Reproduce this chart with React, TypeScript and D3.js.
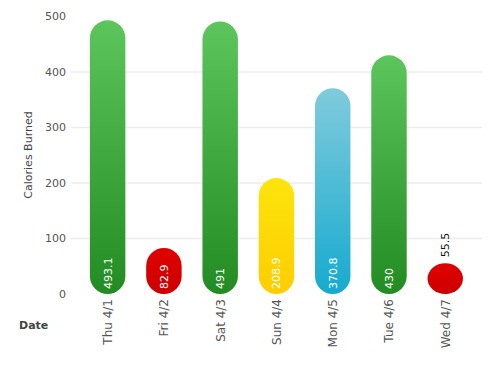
import React from "react";
import * as d3 from "d3";

const dates = ["Thu 4/1", "Fri 4/2", "Sat 4/3", "Sun 4/4", "Mon 4/5", "Tue 4/6", "Wed 4/7"];
const calories = [493.1, 82.9, 491, 208.9, 370.8, 430, 55.5];
const yTicks = [0, 100, 200, 300, 400, 500];

const W = 500;
const H = 389;
const FONT = "'DejaVu Sans', Verdana, sans-serif";

const palettes: Record<string, [string, string]> = {
  red: ["#e00000", "#cc0000"],
  yellow: ["#fde40c", "#fdcd00"],
  blue: ["#80cbdc", "#16aacf"],
  green: ["#5cc65c", "#228b22"],
};

function paletteFor(v: number): string {
  if (v < 100) return "red";
  if (v < 300) return "yellow";
  if (v < 400) return "blue";
  return "green";
}

export default function App() {
  const x = d3
    .scaleBand<string>()
    .domain(dates)
    .range([79.5, 473.4])
    .paddingInner(0.37)
    .paddingOuter(0.185);
  const y = d3.scaleLinear().domain([0, 500]).range([294, 16.5]);
  const bw = x.bandwidth();
  const r = bw / 2;

  return (
    <svg
      width={W}
      height={H}
      style={{ position: "absolute", left: 0, top: 0 }}
      fontFamily={FONT}
    >
      <defs>
        {Object.entries(palettes).map(([k, [c0, c1]]) => (
          <linearGradient key={k} id={`g-${k}`} x1="0" y1="0" x2="0" y2="1">
            <stop offset="0" stopColor={c0} />
            <stop offset="1" stopColor={c1} />
          </linearGradient>
        ))}
      </defs>
      <rect width={W} height={H} fill="#fff" />
      {yTicks
        .filter((t) => t !== 0 && t !== 500)
        .map((t) => (
          <line key={t} x1={71} x2={482} y1={y(t)} y2={y(t)} stroke="#ececec" strokeWidth={1.5} />
        ))}
      {yTicks.map((t) => (
        <text
          key={t}
          x={66}
          y={y(t)}
          dy="0.36em"
          textAnchor="end"
          fontSize={11}
          fill="#555"
        >
          {t}
        </text>
      ))}
      <text
        transform={`translate(32,155) rotate(-90)`}
        textAnchor="middle"
        fontSize={11}
        fill="#444"
      >
        Calories Burned
      </text>
      <text x={19} y={329} fontSize={11} fontWeight="bold" fill="#444">
        Date
      </text>
      {dates.map((d, i) => {
        const v = calories[i];
        const x0 = x(d)!;
        const top = y(v);
        const h = y(0) - top;
        const cx = x0 + bw / 2;
        const inside = h > 40;
        return (
          <g key={d}>
            <rect
              x={x0}
              y={top}
              width={bw}
              height={h}
              rx={r}
              ry={r}
              fill={`url(#g-${paletteFor(v)})`}
            />
            {inside ? (
              <text
                transform={`translate(${cx},${y(0) - 5}) rotate(-90)`}
                dy="0.36em"
                textAnchor="start"
                fontSize={11}
                fill="#fff"
              >
                {v}
              </text>
            ) : (
              <text
                transform={`translate(${cx},${top - 6}) rotate(-90)`}
                dy="0.36em"
                textAnchor="start"
                fontSize={11}
                fill="#111"
              >
                {v}
              </text>
            )}
            <text
              transform={`translate(${cx},${y(0) + 5}) rotate(-90)`}
              dy="0.36em"
              textAnchor="end"
              fontSize={12}
              fill="#555"
            >
              {d}
            </text>
          </g>
        );
      })}
    </svg>
  );
}
